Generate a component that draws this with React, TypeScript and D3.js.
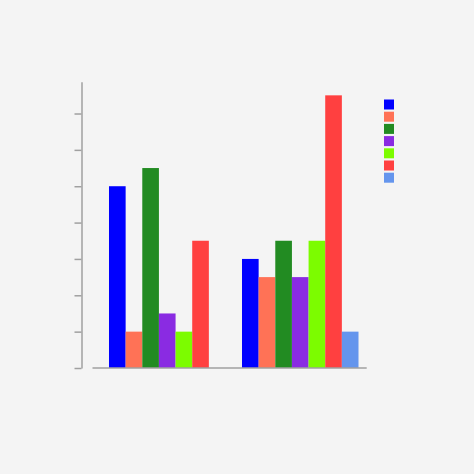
import React, { useEffect, useRef } from "react";
import * as d3 from "d3";

const groups = ["A", "B"];
const series = ["s1", "s2", "s3", "s4", "s5", "s6", "s7"];
const colors = ["#0000ff", "#ff7256", "#228b22", "#8a2be2", "#7cfc00", "#ff4040", "#6495ed"];
const groupA = [5, 1, 5.5, 1.5, 1, 3.5, 0];
const groupB = [3, 2.5, 3.5, 2.5, 3.5, 7.5, 1];
const yTicks = [0, 1, 2, 3, 4, 5, 6, 7];

const App: React.FC = () => {
  const svgRef = useRef<SVGSVGElement | null>(null);

  useEffect(() => {
    document.body.style.margin = "0";
    const width = 474;
    const height = 474;
    const margin = { top: 81.7, bottom: 106, left: 81.5, xStart: 92.5, xEnd: 366.7 };

    const svg = d3.select(svgRef.current).attr("width", width).attr("height", height);
    svg.selectAll("*").remove();

    svg.append("rect").attr("width", width).attr("height", height).attr("fill", "#f4f4f4");

    const values = [groupA, groupB];
    const maxV = d3.max(values.flat()) || 0;

    const x0 = d3
      .scaleBand()
      .domain(groups)
      .range([margin.xStart, 375])
      .paddingInner(0.124)
      .paddingOuter(0.124);

    const x1 = d3.scaleBand().domain(series).range([0, x0.bandwidth()]);

    const y = d3
      .scaleLinear()
      .domain([0, maxV * 1.05])
      .range([height - margin.bottom, margin.top]);

    // Bars
    groups.forEach((g, gi) => {
      svg
        .append("g")
        .attr("transform", `translate(${x0(g)},0)`)
        .selectAll("rect")
        .data(values[gi])
        .join("rect")
        .attr("x", (_, i) => x1(series[i])!)
        .attr("y", (d) => y(d))
        .attr("width", x1.bandwidth())
        .attr("height", (d) => y(0) - y(d))
        .attr("fill", (_, i) => colors[i]);
    });

    // Y axis
    const yAxis = svg
      .append("g")
      .attr("transform", `translate(${margin.left},0)`)
      .call(d3.axisLeft(y).tickValues(yTicks).tickSize(7).tickSizeOuter(0).tickFormat(() => ""));
    yAxis.select(".domain").attr("stroke", "#a0a0a0").attr("stroke-width", 1.5);
    yAxis.selectAll(".tick line").attr("stroke", "#a0a0a0").attr("stroke-width", 1.5);

    // X axis
    svg
      .append("line")
      .attr("x1", margin.xStart)
      .attr("x2", margin.xEnd)
      .attr("y1", y(0))
      .attr("y2", y(0))
      .attr("stroke", "#a0a0a0")
      .attr("stroke-width", 1.5);

    // Legend
    const legend = svg.append("g").attr("transform", "translate(384,99.5)");
    legend
      .selectAll("rect")
      .data(series)
      .join("rect")
      .attr("x", 0)
      .attr("y", (_, i) => i * 12.2)
      .attr("width", 10)
      .attr("height", 10)
      .attr("fill", (_, i) => colors[i]);
  }, []);

  return <svg ref={svgRef} style={{ display: "block" }}></svg>;
};

export default App;
